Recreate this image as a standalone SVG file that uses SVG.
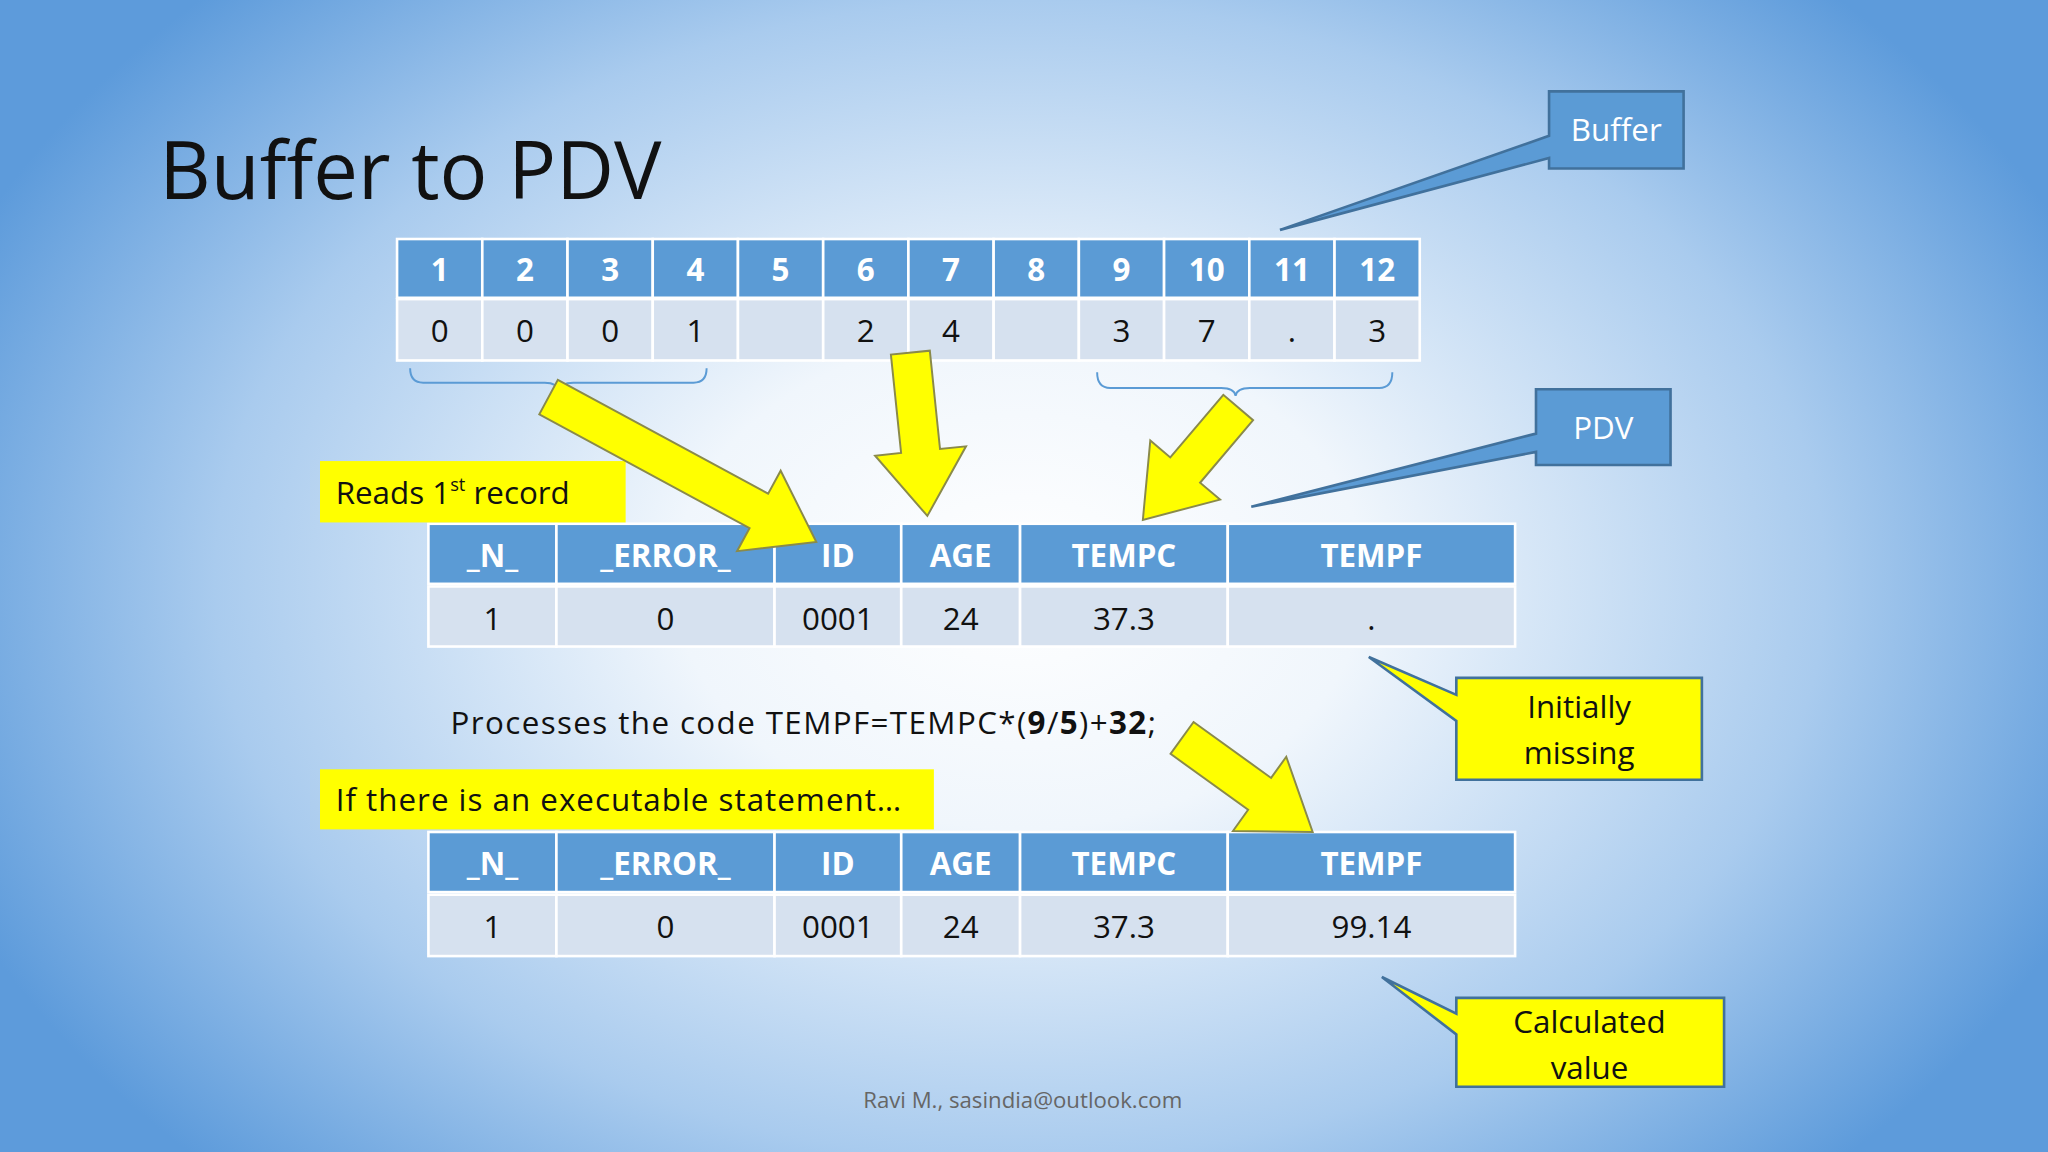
<svg xmlns="http://www.w3.org/2000/svg" width="2048" height="1152" viewBox="0 0 2048 1152">
<defs>
<radialGradient id="bg" cx="1020" cy="580" r="1150" gradientUnits="userSpaceOnUse" gradientTransform="translate(1020 580) scale(1 0.72) translate(-1020 -580)">
<stop offset="0" stop-color="#ffffff"/><stop offset="0.3" stop-color="#f0f6fc"/><stop offset="0.7" stop-color="#a9cbee"/><stop offset="1" stop-color="#5d9bdb"/>
</radialGradient>
<style>
text{font-family:"Open Sans","Liberation Sans",sans-serif}
.h{fill:#5b9bd5;stroke:#fff;stroke-width:2}
.d{fill:#d6e1ef;stroke:#fff;stroke-width:2}
.ht{fill:#fff;font-weight:bold;font-size:24px;text-anchor:middle}
.dt{fill:#111;font-size:24px;text-anchor:middle}
.ya{fill:#ffff00;stroke:#8a8a4a;stroke-width:1.5}
.yl{fill:#ffff00}
.cb{fill:#5b9bd5;stroke:#41719c;stroke-width:2}
.cy{fill:#ffff00;stroke:#41719c;stroke-width:2}
.br{fill:none;stroke:#5b9bd5;stroke-width:1.5}
</style>
</defs>
<rect width="2048" height="1152" fill="url(#bg)"/>
<g transform="scale(1.306122)">
<text x="122" y="152" font-size="61" fill="#111">Buffer to PDV</text>
<g id="buffer">
<g class="h"><rect x="304" y="183" width="65.25" height="45"/><rect x="369.25" y="183" width="65.25" height="45"/><rect x="434.5" y="183" width="65.25" height="45"/><rect x="499.75" y="183" width="65.25" height="45"/><rect x="565" y="183" width="65.25" height="45"/><rect x="630.25" y="183" width="65.25" height="45"/><rect x="695.5" y="183" width="65.25" height="45"/><rect x="760.75" y="183" width="65.25" height="45"/><rect x="826" y="183" width="65.25" height="45"/><rect x="891.25" y="183" width="65.25" height="45"/><rect x="956.5" y="183" width="65.25" height="45"/><rect x="1021.75" y="183" width="65.25" height="45"/></g>
<g class="d"><rect x="304" y="229" width="65.25" height="47"/><rect x="369.25" y="229" width="65.25" height="47"/><rect x="434.5" y="229" width="65.25" height="47"/><rect x="499.75" y="229" width="65.25" height="47"/><rect x="565" y="229" width="65.25" height="47"/><rect x="630.25" y="229" width="65.25" height="47"/><rect x="695.5" y="229" width="65.25" height="47"/><rect x="760.75" y="229" width="65.25" height="47"/><rect x="826" y="229" width="65.25" height="47"/><rect x="891.25" y="229" width="65.25" height="47"/><rect x="956.5" y="229" width="65.25" height="47"/><rect x="1021.75" y="229" width="65.25" height="47"/></g>
<g class="ht"><text x="336.6" y="215">1</text><text x="401.9" y="215">2</text><text x="467.1" y="215">3</text><text x="532.4" y="215">4</text><text x="597.6" y="215">5</text><text x="662.9" y="215">6</text><text x="728.1" y="215">7</text><text x="793.4" y="215">8</text><text x="858.6" y="215">9</text><text x="923.9" y="215">10</text><text x="989.1" y="215">11</text><text x="1054.4" y="215">12</text></g>
<g class="dt"><text x="336.6" y="262">0</text><text x="401.9" y="262">0</text><text x="467.1" y="262">0</text><text x="532.4" y="262">1</text><text x="662.9" y="262">2</text><text x="728.1" y="262">4</text><text x="858.6" y="262">3</text><text x="923.9" y="262">7</text><text x="989.1" y="262">.</text><text x="1054.4" y="262">3</text></g>
<path class="br" d="M314,282 Q314,293 324,293 H417 Q427,293 428,300 Q429,293 439,293 H531 Q541,293 541,282"/>
<path class="br" d="M840,285 Q840,297 850,297 H935 Q945,297 946,303 Q947,297 957,297 H1056 Q1066,297 1066,285"/>
</g>
<g id="pdv1">
<g class="h"><rect x="328" y="401" width="98" height="46"/><rect x="426" y="401" width="167" height="46"/><rect x="593" y="401" width="97" height="46"/><rect x="690" y="401" width="91" height="46"/><rect x="781" y="401" width="159" height="46"/><rect x="940" y="401" width="220" height="46"/></g>
<g class="d"><rect x="328" y="449" width="98" height="46"/><rect x="426" y="449" width="167" height="46"/><rect x="593" y="449" width="97" height="46"/><rect x="690" y="449" width="91" height="46"/><rect x="781" y="449" width="159" height="46"/><rect x="940" y="449" width="220" height="46"/></g>
<g class="ht"><text x="377" y="434">_N_</text><text x="509.5" y="434">_ERROR_</text><text x="641.5" y="434">ID</text><text x="735.5" y="434">AGE</text><text x="860.5" y="434">TEMPC</text><text x="1050" y="434">TEMPF</text></g>
<g class="dt"><text x="377" y="482">1</text><text x="509.5" y="482">0</text><text x="641.5" y="482">0001</text><text x="735.5" y="482">24</text><text x="860.5" y="482">37.3</text><text x="1050" y="482">.</text></g>
</g>
<g id="pdv2">
<g class="h"><rect x="328" y="637" width="98" height="46"/><rect x="426" y="637" width="167" height="46"/><rect x="593" y="637" width="97" height="46"/><rect x="690" y="637" width="91" height="46"/><rect x="781" y="637" width="159" height="46"/><rect x="940" y="637" width="220" height="46"/></g>
<g class="d"><rect x="328" y="685" width="98" height="47"/><rect x="426" y="685" width="167" height="47"/><rect x="593" y="685" width="97" height="47"/><rect x="690" y="685" width="91" height="47"/><rect x="781" y="685" width="159" height="47"/><rect x="940" y="685" width="220" height="47"/></g>
<g class="ht"><text x="377" y="670">_N_</text><text x="509.5" y="670">_ERROR_</text><text x="641.5" y="670">ID</text><text x="735.5" y="670">AGE</text><text x="860.5" y="670">TEMPC</text><text x="1050" y="670">TEMPF</text></g>
<g class="dt"><text x="377" y="718">1</text><text x="509.5" y="718">0</text><text x="641.5" y="718">0001</text><text x="735.5" y="718">24</text><text x="860.5" y="718">37.3</text><text x="1050" y="718">99.14</text></g>
</g>
<g id="label-reads"><rect class="yl" x="245" y="353" width="234" height="47"/><text x="257" y="386" font-size="24" fill="#111">Reads 1<tspan font-size="14" dy="-10">st</tspan><tspan dy="10"> record</tspan></text></g>
<g id="label-exec"><rect class="yl" x="245" y="589" width="470" height="46"/><text x="257" y="621" font-size="24" fill="#111" textLength="433">If there is an executable statement…</text></g>
<text x="345" y="562" font-size="24" fill="#111" textLength="540">Processes the code TEMPF=TEMPC*(<tspan font-weight="bold">9</tspan>/<tspan font-weight="bold">5</tspan>)+<tspan font-weight="bold">32</tspan>;</text>
<g id="callout-buffer"><path class="cb" d="M1186,70 H1289 V129 H1186 V121 L980,176 L1186,104 Z"/><text x="1237.5" y="108" font-size="24" fill="#fff" text-anchor="middle">Buffer</text></g>
<g id="callout-pdv"><path class="cb" d="M1176,298 H1279 V356 H1176 V346 L958,388 L1176,332 Z"/><text x="1227.5" y="336" font-size="24" fill="#fff" text-anchor="middle">PDV</text></g>
<g id="callout-missing"><path class="cy" d="M1115,519 H1303 V597 H1115 V552 L1048,503 L1115,532 Z"/><text x="1209" y="550" font-size="24" fill="#111" text-anchor="middle">Initially</text><text x="1209" y="585" font-size="24" fill="#111" text-anchor="middle">missing</text></g>
<g id="callout-calc"><path class="cy" d="M1115,764 H1320 V832 H1115 V792 L1058,748 L1115,776 Z"/><text x="1217" y="791" font-size="24" fill="#111" text-anchor="middle">Calculated</text><text x="1217" y="826" font-size="24" fill="#111" text-anchor="middle">value</text></g>
<g id="connectors">
<polygon class="ya" points="427.1,290.8 588.1,378 597.7,360.4 625,415 564.3,422 573.9,404.4 412.9,317.2"/>
<polygon class="ya" points="711.9,268.5 719.7,343.8 739.6,341.7 710,395 670,348.9 689.9,346.8 682.1,271.5"/>
<polygon class="ya" points="936.6,302.3 896,350.2 880.7,337.3 875,398 934.1,382.5 918.8,369.6 959.4,321.7"/>
<polygon class="ya" points="913.8,552.8 973.2,595.6 984.8,579.4 1005,637 944,636.2 955.6,620 896.2,577.2"/>
</g>
<text x="783" y="848" font-size="17" fill="#666" text-anchor="middle">Ravi M., sasindia@outlook.com</text>
</g>
</svg>
